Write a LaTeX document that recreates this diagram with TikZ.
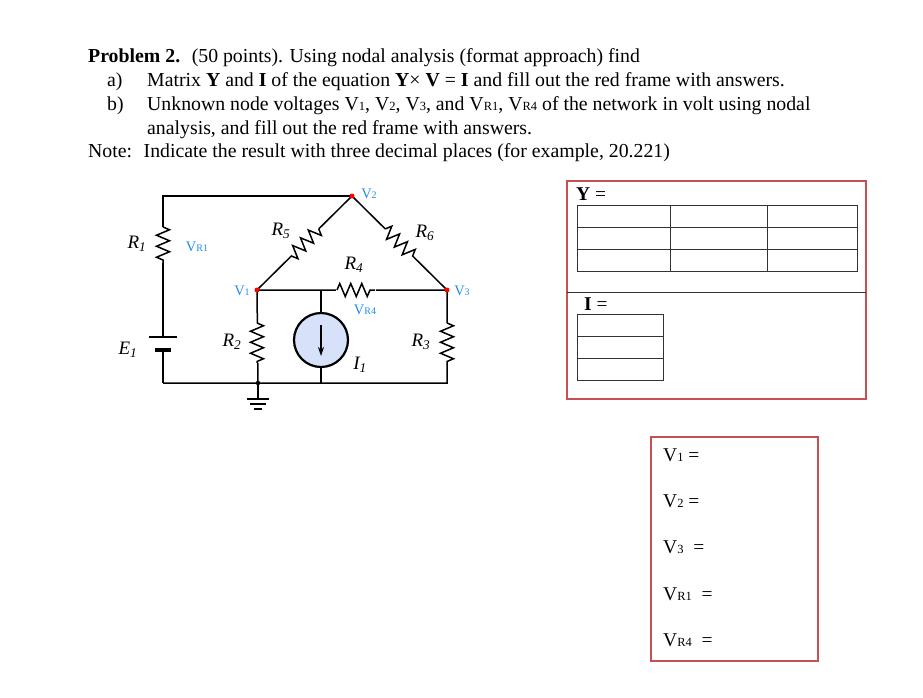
\documentclass[tikz,border=0pt]{standalone}
\usepackage{fontspec}
\setmainfont{Liberation Serif}
\usetikzlibrary{decorations.pathmorphing,arrows.meta,calc}
\definecolor{vblue}{RGB}{30,140,240}
\definecolor{fr}{RGB}{200,80,80}
\definecolor{src}{RGB}{215,225,250}
\newcommand{\sm}[1]{{\fontsize{12.5}{12}\selectfont #1}}
\newcommand{\bs}[1]{{\fontsize{10}{10}\selectfont #1}}
\begin{document}
\begin{tikzpicture}[x=1pt,y=-1pt,
  txt/.style={anchor=base west,inner sep=0,font=\fontsize{19.8}{22}\selectfont},
  res/.style={decorate,decoration={zigzag,segment length=11,amplitude=6.5,pre length=0,post length=0}},
  wire/.style={line width=1.5pt},
  lbl/.style={inner sep=1,font=\fontsize{19}{19}\selectfont\itshape},
  vl/.style={inner sep=1,text=vblue,font=\fontsize{14.5}{14}\selectfont},
  dot/.style={circle,fill=red,inner sep=0,minimum size=5},
  cell/.style={draw=black!80,line width=0.9pt},
  ans/.style={anchor=base west,inner sep=0,font=\fontsize{19.5}{19}\selectfont}]
\useasboundingbox (0,0) rectangle (923,697);
% text
\node[txt] (t1) at (88,62) {\textbf{Problem 2.} ~(50 points). Using nodal analysis (format approach) find};
\node[txt] (t2a) at (107,86) {a)};
\node[txt] (t2) at (147,86) {Matrix \textbf{Y} and \textbf{I} of the equation \textbf{Y}× \textbf{V} = \textbf{I} and fill out the red frame with answers.};
\node[txt] (t3a) at (107,110) {b)};
\node[txt] (t3) at (147,110) {Unknown node voltages V\sm{1}, V\sm{2}, V\sm{3}, and V\sm{R1}, V\sm{R4} of the network in volt using nodal};
\node[txt] (t4) at (147,134) {analysis, and fill out the red frame with answers.};
\node[txt] (t5) at (88,157) {Note: ~Indicate the result with three decimal places (for example, 20.221)};
% circuit nodes
\coordinate (tl) at (163,196);
\coordinate (v2) at (352,196);
\coordinate (v1) at (257,290);
\coordinate (v3) at (447,290);
\coordinate (bl) at (163,383);
\coordinate (gnd) at (258,383);
\coordinate (br) at (447,383);
\coordinate (cs) at (321,290);
\coordinate (csb) at (321,383);
\node[circle,draw,line width=2.2pt,fill=src,minimum size=54,inner sep=0] (I) at (321,340) {};
% wires
\draw[wire] (bl) -- (163,350) (163,337) -- (tl) -- (v2);
\draw[draw=white,line width=4pt] (163,227) -- (163,263);
\draw[wire,res] (163,227) -- (163,263);
\draw[line width=2.2pt] (149,337) -- (177,337);
\draw[line width=3.5pt] (155,350) -- (171,350);
\draw[wire] (bl) -- (br) -- (v3) -- (v1) -- (gnd);
\draw[wire] (v2) -- ($(v2)!0.35!(v1)$) coordinate (r5a);
\draw[wire] ($(v2)!0.65!(v1)$) coordinate (r5b) -- (v1);
\draw[wire,res] (r5a) -- (r5b);
\draw[wire] (v2) -- ($(v2)!0.35!(v3)$) coordinate (r6a);
\draw[wire] ($(v2)!0.65!(v3)$) coordinate (r6b) -- (v3);
\draw[wire,res] (r6a) -- (r6b);
\fill[white] (336,286) rectangle (376,294);
\draw[wire,res] (337,290) -- (375,290);
\draw[draw=white,line width=4pt] (257,323) -- (257,363);
\draw[wire,res] (257,323) -- (257,363);
\draw[draw=white,line width=4pt] (447,323) -- (447,363);
\draw[wire,res] (447,323) -- (447,363);
\draw[wire] (cs) -- (I.north) (I.south) -- (csb);
\draw[wire,-{Stealth[length=9,width=6]}] (321,325) -- (321,356);
% ground
\draw[wire] (gnd) -- (258,398);
\draw[line width=2.2pt] (247,399) -- (269,399) (250,404) -- (266,404) (254,409) -- (262,409);
\fill (gnd) circle (2.2);
\node[dot] (d1) at (v1) {};
\node[dot] (d2) at (v2) {};
\node[dot] (d3) at (v3) {};
% labels
\node[lbl] (lR1) at (137,244) {R\textsubscript{1}};
\node[vl] (lVR1) at (197,247) {V\bs{R1}};
\node[lbl] (lE1) at (128,350) {E\textsubscript{1}};
\node[lbl] (lR2) at (232,342) {R\textsubscript{2}};
\node[lbl] (lR3) at (421,342) {R\textsubscript{3}};
\node[lbl] (lR4) at (354,265) {R\textsubscript{4}};
\node[vl] (lVR4) at (365,310) {V\bs{R4}};
\node[lbl] (lR5) at (281,231) {R\textsubscript{5}};
\node[lbl] (lR6) at (425,233) {R\textsubscript{6}};
\node[lbl] (lI1) at (360,365) {I\textsubscript{1}};
\node[vl] (lV1) at (242,291) {V\bs{1}};
\node[vl] (lV2) at (369,194) {V\bs{2}};
\node[vl] (lV3) at (462,291) {V\bs{3}};
% Y/I frame
\draw[fr,line width=1.5pt] (567,181) rectangle (866,399);
\draw[black!80,line width=0.9pt] (567,292) -- (866,292);
\node[ans] (Ylab) at (576,200) {\textbf{Y} =};
\foreach \r in {0,1,2} \foreach \x/\w in {577/93,670/97,767/90}
  \draw[cell] (\x,{205+22*\r}) rectangle ++(\w,22);
\node[ans] (Ilab) at (584,310) {\textbf{I} =};
\foreach \r in {0,1,2} \draw[cell] (577,{314+22*\r}) rectangle ++(86,22);
% answers frame
\draw[fr,line width=1.5pt] (651,437) rectangle (818,661);
\node[ans] (a1) at (663,461) {V\sm{1} =};
\node[ans] (a2) at (663,507) {V\sm{2} =};
\node[ans] (a3) at (663,553) {V\sm{3} ~=};
\node[ans] (a4) at (663,600) {V\sm{R1} ~=};
\node[ans] (a5) at (663,646) {V\sm{R4} ~=};
\end{tikzpicture}
\end{document}
